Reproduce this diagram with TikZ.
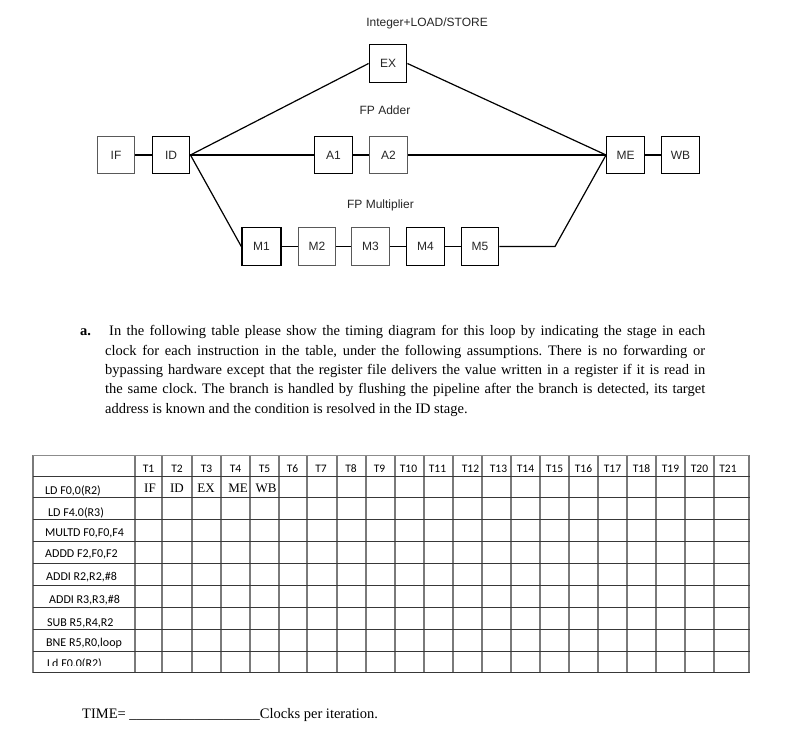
\documentclass[tikz,border=0pt]{standalone}
\usepackage{fontspec}
\setmainfont{Liberation Serif}
\newfontfamily\arialf{Liberation Sans}
\newfontfamily\calf{Carlito}
\frenchspacing
\begin{document}
\begin{tikzpicture}[x=1pt,y=-1pt,
  stagebox/.style={draw=black, line width=1.4pt, minimum width=37.5pt, minimum height=37.5pt,
    inner sep=0pt, font=\arialf\fontsize{12}{14}\selectfont, text=black!85},
  thinbox/.style={stagebox, draw=black!65, line width=1pt},
  conn/.style={draw=black, line width=1.2pt},
  unitlabel/.style={font=\arialf\fontsize{12}{14}\selectfont, text=black!85, inner sep=0pt, anchor=base},
  para/.style={font=\fontsize{14.5}{19.4}\selectfont, inner sep=0pt, anchor=base west},
  vline/.style={draw=black!52, line width=1.5pt},
  hline/.style={draw=black!78, line width=1pt},
  hdr/.style={font=\calf\fontsize{11.5}{13}\selectfont, inner sep=0pt, anchor=base},
  rowlab/.style={font=\calf\fontsize{12}{14}\selectfont, inner sep=0pt, anchor=base west},
  cellt/.style={font=\fontsize{13}{15}\selectfont, inner sep=0pt, anchor=base}
]
\path[use as bounding box] (0,0) rectangle (786,735);

% ---------- pipeline diagram ----------
\node[unitlabel] (lint) at (427,27) {Integer+LOAD/STORE};
\node[unitlabel] (ladd) at (385,115) {FP Adder};
\node[unitlabel] (lmul) at (380.5,209) {FP Multiplier};

\node[thinbox]  (IF) at (116,155) {IF};
\node[stagebox] (ID) at (171,155) {ID};
\node[stagebox] (EX) at (388,63.5) {EX};
\node[stagebox] (A1) at (333.5,155) {A1};
\node[thinbox]  (A2) at (388.5,155) {A2};
\node[stagebox] (ME) at (625.5,155) {ME};
\node[stagebox] (WB) at (680.5,155) {WB};
\node[stagebox, minimum width=39pt] (M1) at (261.5,246.5) {M1};
\node[thinbox]  (M2) at (317,246.5) {M2};
\node[thinbox]  (M3) at (370.5,246.5) {M3};
\node[stagebox] (M4) at (425.5,246.5) {M4};
\node[stagebox] (M5) at (480,246.5) {M5};
\coordinate (bend) at (555,246.5);

\draw[conn] (IF) -- (ID);
\draw[conn] (ID.east) -- (EX.west);
\draw[conn] (EX.east) -- (ME.west);
\draw[conn] (ID.east) -- (A1.west);
\draw[conn] (A1) -- (A2);
\draw[conn] (A2.east) -- (ME.west);
\draw[conn] (ID.east) -- (M1.west);
\draw[conn] (M1) -- (M2);
\draw[conn] (M2) -- (M3);
\draw[conn] (M3) -- (M4);
\draw[conn] (M4) -- (M5);
\draw[conn] (M5.east) -- (bend) -- (ME.west);
\draw[conn] (ME) -- (WB);

% ---------- paragraph ----------
\node[para, font=\bfseries\fontsize{14.5}{19.4}\selectfont] (pa) at (80,335.5) {a.};
\node[para] (p1) at (109,335.5) {\makebox[596pt][s]{In the following table please show the timing diagram for this loop by indicating the stage in each}};
\node[para] (p2) at (105,355) {\makebox[600pt][s]{clock for each instruction in the table, under the following assumptions. There is no forwarding or}};
\node[para] (p3) at (105,374.3) {\makebox[600pt][s]{bypassing hardware except that the register file delivers the value written in a register if it is read in}};
\node[para] (p4) at (105,393.6) {\makebox[600pt][s]{the same clock. The branch is handled by flushing the pipeline after the branch is detected, its target}};
\node[para] (p5) at (105,413) {address is known and the condition is resolved in the ID stage.};

% ---------- table ----------
\foreach \x in {33,135,162,192,221,250,279,307,337,366,395,424,453,482,511,540,569,598,627,656,685,714,749}
  \draw[vline] (\x,455) -- (\x,672.5);
\draw[draw=black!45, line width=1pt] (33,455) -- (749,455);
\foreach \y in {476,497,519,541,563,585,607,629,651,672}
  \draw[hline] (33,\y) -- (750,\y);

\foreach \c/\t [count=\i] in {148.5/T1,177/T2,206.5/T3,235.5/T4,264.5/T5,292.5/T6,321/T7,351/T8,379.5/T9,408.5/T10,437.5/T11,470.5/T12,498.5/T13,525.5/T14,554.5/T15,583.5/T16,612.5/T17,641.5/T18,670.5/T19,699.5/T20,728/T21}
  \node[hdr] (h\i) at (\c,472) {\t};

\node[rowlab] (r1) at (45,494) {LD F0,0(R2)};
\node[rowlab] (r2) at (48,516) {LD F4.0(R3)};
\node[rowlab] (r3) at (45,536) {MULTD F0,F0,F4};
\node[rowlab] (r4) at (45,557) {ADDD F2,F0,F2};
\node[rowlab] (r5) at (46,580) {ADDI R2,R2,\#8};
\node[rowlab] (r6) at (49,603) {ADDI R3,R3,\#8};
\node[rowlab] (r7) at (47,626) {SUB R5,R4,R2};
\node[rowlab] (r8) at (46,646) {BNE R5,R0,loop};
\begin{scope}
  \clip (34,652) rectangle (134,665.5);
  \node[rowlab] (r9) at (47,667) {Ld F0.0(R2)};
\end{scope}

\node[cellt] (s1) at (150,492.5) {IF};
\node[cellt] (s2) at (177,492.5) {ID};
\node[cellt] (s3) at (206,492.5) {EX};
\node[cellt] (s4) at (238,492.5) {ME};
\node[cellt] (s5) at (266,492.5) {WB};

% ---------- bottom line ----------
\node[para] (tm) at (82,718) {TIME= \_\_\_\_\_\_\_\_\_\_\_\_\_\_\_\_\_\_Clocks per iteration.};
\end{tikzpicture}
\end{document}
